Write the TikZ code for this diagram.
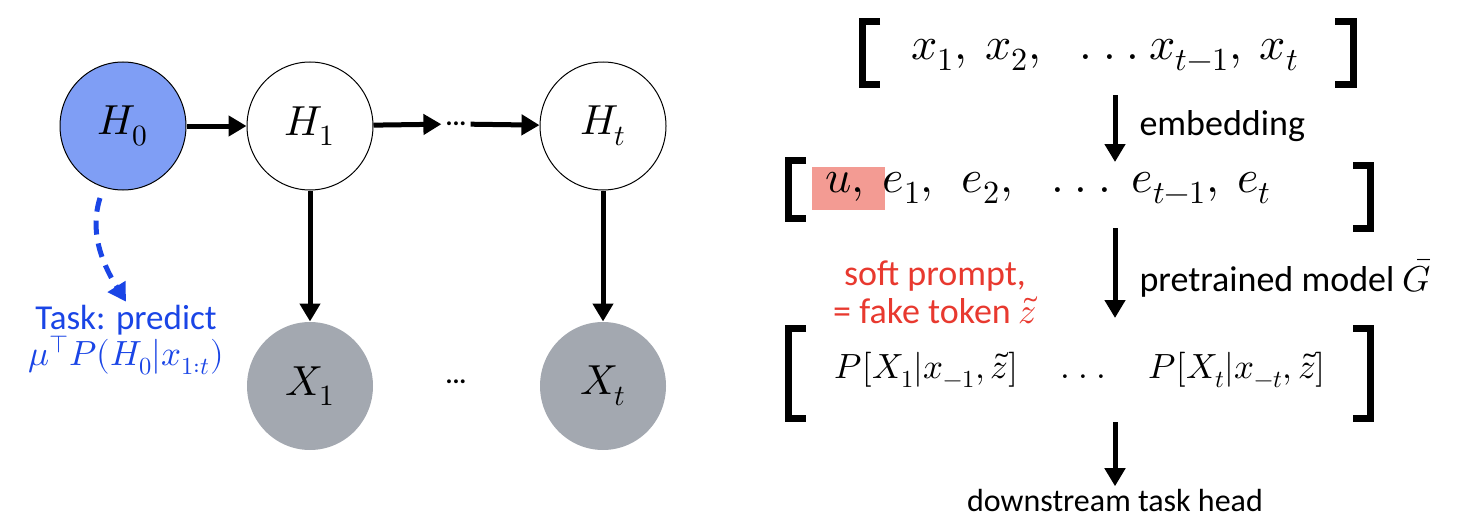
\documentclass[tikz,border=0pt]{standalone}
\usepackage{unicode-math}
\setmainfont{Carlito}
\setmathfont{Latin Modern Math}
\usetikzlibrary{arrows.meta,shapes.geometric}
\definecolor{hblue}{HTML}{7F9EF5}
\definecolor{xgray}{HTML}{A3A8B0}
\definecolor{tblue}{HTML}{1A45E6}
\definecolor{tred}{HTML}{E8392F}
\definecolor{upink}{HTML}{F39B93}
\tikzset{
  var/.style={ellipse,draw,minimum width=126pt,minimum height=128pt,inner sep=0pt,line width=1pt,font=\fontsize{42}{42}\selectfont},
  arr/.style={-{Triangle[length=18pt,width=20pt]},line width=5pt},
  brk/.style={line width=7pt},
  lbl/.style={font=\fontsize{36}{38}\selectfont},
  mrow/.style={font=\fontsize{46}{46}\selectfont},
}
\begin{document}
\begin{tikzpicture}[x=1pt,y=-1pt]
\useasboundingbox (0,0) rectangle (1471,519);
% left graph
\node[var,fill=hblue] (h0) at (123,126) {$H_0$};
\node[var,fill=white] (h1) at (310,126) {$H_1$};
\node[var,fill=white] (ht) at (603,126) {$H_t$};
\node[var,fill=xgray,draw=none] (x1) at (310,386) {$X_1$};
\node[var,fill=xgray,draw=none] (xt) at (603,386) {$X_t$};
\node[font=\fontsize{26}{26}\selectfont\bfseries,inner sep=4pt] (hd) at (456,124) {...};
\node[font=\fontsize{26}{26}\selectfont\bfseries] (xd) at (456,382) {...};
\draw[arr] (h0) -- (h1);
\draw[arr] (h1) -- (hd);
\draw[arr] (hd) -- (ht);
\draw[arr] (h1) -- (x1);
\draw[arr] (ht) -- (xt);
\node[text=tblue,align=center,font=\fontsize{35}{36}\selectfont] (task) at (126,340) {Task: predict\\$\mu^{\top}P(H_0|x_{1:t})$};
\coordinate (ts) at (100,198);
\draw[tblue,line width=5pt,dash pattern=on 14pt off 9pt,-{Triangle[length=18pt,width=20pt]}] (ts) .. controls (90,230) and (100,260) .. (task.north);
% right: row 1
\draw[brk] (880,22) -- (862,22) -- (862,84) -- (880,84);
\draw[brk] (1335,22) -- (1353,22) -- (1353,84) -- (1335,84);
\node[mrow] (r1) at (1105,55) {$x_1,\ x_2,\ \ \ .\ .\ .\ x_{t-1},\ x_t$};
% row 2
\draw[brk] (806,160) -- (788,160) -- (788,218) -- (806,218);
\draw[brk] (1353,165) -- (1370,165) -- (1370,228) -- (1353,228);
\fill[upink] (812,167) rectangle (885,210);
\node[mrow,anchor=west] (r2) at (822,188) {$u,\ e_1,\ \ e_2,\ \ \ .\ .\ .\ \ e_{t-1},\ e_t$};
\node[text=tred,align=center,lbl] (sp) at (935,292) {soft prompt,\\= fake token $\tilde z$};
% row 3
\draw[brk] (806,328) -- (788,328) -- (788,418) -- (806,418);
\draw[brk] (1353,328) -- (1370,328) -- (1370,418) -- (1353,418);
\node[font=\fontsize{35}{35}\selectfont] (r3) at (1080,370) {$P[X_1|x_{-1},\tilde z]\quad\ .\ .\ .\quad\ P[X_t|x_{-t},\tilde z]$};
% arrows
\coordinate (a1s) at (1115,95); \coordinate (a1e) at (1115,162);
\coordinate (a2s) at (1115,228); \coordinate (a2e) at (1115,318);
\coordinate (a3s) at (1115,422);
\node[font=\fontsize{32}{34}\selectfont] (dh) at (1115,501) {downstream task head};
\draw[arr] (a1s) -- (a1e);
\draw[arr] (a2s) -- (a2e);
\draw[arr] (a3s) -- (dh.north);
\node[lbl,anchor=west] (emb) at (1136,126) {embedding};
\node[lbl,anchor=west] (pm) at (1136,278) {pretrained model $\bar G$};
\end{tikzpicture}
\end{document}
